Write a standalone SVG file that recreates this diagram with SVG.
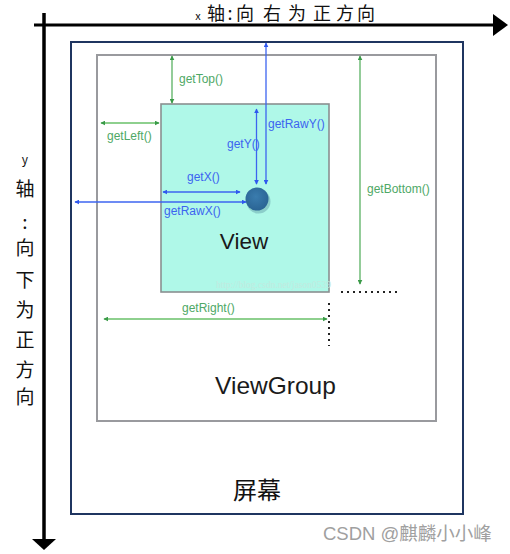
<svg xmlns="http://www.w3.org/2000/svg" width="510" height="554" viewBox="0 0 510 554">
<defs>
<style>
.lbl{font-family:"Liberation Sans",Arial,sans-serif;font-size:12px}
.g{fill:#4ea866}
.b{fill:#3c64f0}
.gl{stroke:#4caa55;stroke-width:1.2;fill:none}
.gll{stroke:#8ed08e;stroke-width:2;fill:none}
.bl{stroke:#3c64f0;stroke-width:1.3;fill:none}
.cjk{font-family:"Noto Sans CJK SC","Noto Sans",sans-serif;fill:#111}
.big{font-family:"Liberation Sans",Arial,sans-serif;fill:#1a1a1a}
.dot{stroke:#222;stroke-width:2;stroke-dasharray:2 4;fill:none}
</style>
<marker id="ag" viewBox="0 0 8 8" refX="7" refY="4" markerWidth="5" markerHeight="5" markerUnits="userSpaceOnUse" orient="auto-start-reverse"><path d="M0,0 L8,4 L0,8 z" fill="#3a9a48"/></marker>
<marker id="ab" viewBox="0 0 8 8" refX="7" refY="4" markerWidth="5" markerHeight="5" markerUnits="userSpaceOnUse" orient="auto-start-reverse"><path d="M0,0 L8,4 L0,8 z" fill="#2f58ee"/></marker>
<radialGradient id="cg" cx="0.45" cy="0.4" r="0.6"><stop offset="0" stop-color="#3a7cae"/><stop offset="1" stop-color="#2a6494"/></radialGradient>
</defs>
<rect width="510" height="554" fill="#ffffff"/>

<g id="axes">
<line x1="34" y1="25" x2="496" y2="25" stroke="#000" stroke-width="3"/>
<polygon points="493,14 508,25 493,36" fill="#000"/>
<line x1="44" y1="13" x2="44" y2="541" stroke="#000" stroke-width="3.5"/>
<polygon points="32,539 44,550 56,539" fill="#000"/>
<text class="cjk" font-size="18" text-anchor="middle" y="20"><tspan x="198" font-size="11">x</tspan><tspan x="216">轴</tspan><tspan x="230">:</tspan><tspan x="245">向</tspan><tspan x="272">右</tspan><tspan x="297">为</tspan><tspan x="322">正</tspan><tspan x="345">方</tspan><tspan x="366">向</tspan></text>
<text class="cjk" font-size="19" text-anchor="middle"><tspan x="25" y="164" font-size="12">y</tspan><tspan x="25" y="196">轴</tspan><tspan x="25" y="229">:</tspan><tspan x="25" y="255">向</tspan><tspan x="25" y="287">下</tspan><tspan x="25" y="317">为</tspan><tspan x="25" y="347">正</tspan><tspan x="25" y="377">方</tspan><tspan x="25" y="404">向</tspan></text>
</g>

<g id="screen">
<rect x="71" y="42" width="392" height="472" fill="none" stroke="#1f3560" stroke-width="2"/>
<text class="cjk" x="257" y="499" font-size="24" text-anchor="middle">屏幕</text>
</g>

<g id="viewgroup">
<rect x="97" y="55" width="339" height="366" fill="none" stroke="#999a9e" stroke-width="2"/>
<text class="big" x="275.5" y="394" font-size="24.5" text-anchor="middle">ViewGroup</text>
</g>

<g id="view">
<rect x="161" y="104" width="168" height="188" fill="#aff8e8" stroke="#8a8f90" stroke-width="1.6"/>
<text class="big" x="244" y="249" font-size="22.5" text-anchor="middle">View</text>
<text x="216" y="288" font-family="Liberation Serif,serif" font-size="9.5" fill="#c2eadf">http://blog.csdn.net/jason0539</text>
</g>

<g id="touch-point">
<circle cx="257.5" cy="200" r="12" fill="#20506e" opacity="0.25" transform="translate(1,1.5)"/>
<circle cx="257" cy="199" r="11.5" fill="url(#cg)"/>
</g>

<g id="connectors">
<line class="gl" x1="172" y1="56" x2="172" y2="103" marker-start="url(#ag)" marker-end="url(#ag)"/>
<line class="gll" x1="101" y1="123" x2="159" y2="123" marker-start="url(#ag)" marker-end="url(#ag)"/>
<line class="gl" x1="360" y1="56" x2="360" y2="284" marker-start="url(#ag)" marker-end="url(#ag)"/>
<line class="gll" x1="104" y1="319" x2="327" y2="319" marker-start="url(#ag)" marker-end="url(#ag)"/>
<line class="bl" x1="256.5" y1="109" x2="256.5" y2="184" marker-start="url(#ab)" marker-end="url(#ab)"/>
<line class="bl" x1="266" y1="43" x2="266" y2="184" marker-start="url(#ab)" marker-end="url(#ab)"/>
<line class="bl" x1="163" y1="192" x2="240" y2="192" marker-start="url(#ab)" marker-end="url(#ab)"/>
<line class="bl" x1="75" y1="202" x2="246" y2="202" marker-start="url(#ab)" marker-end="url(#ab)"/>
<line class="dot" x1="341" y1="292" x2="398" y2="292"/>
<line class="dot" x1="329" y1="303" x2="329" y2="346"/>
<text class="lbl g" x="179" y="83">getTop()</text>
<text class="lbl g" x="107" y="140">getLeft()</text>
<text class="lbl g" x="367" y="193">getBottom()</text>
<text class="lbl g" x="182" y="312">getRight()</text>
<text class="lbl b" x="268" y="128">getRawY()</text>
<text class="lbl b" x="227" y="148">getY()</text>
<text class="lbl b" x="187" y="181">getX()</text>
<text class="lbl b" x="164" y="215">getRawX()</text>
</g>

<text x="323" y="540" font-family="Liberation Sans,'Noto Sans CJK SC',sans-serif" font-size="18.5" fill="#a0a0a0">CSDN @麒麟小小峰</text>
</svg>
